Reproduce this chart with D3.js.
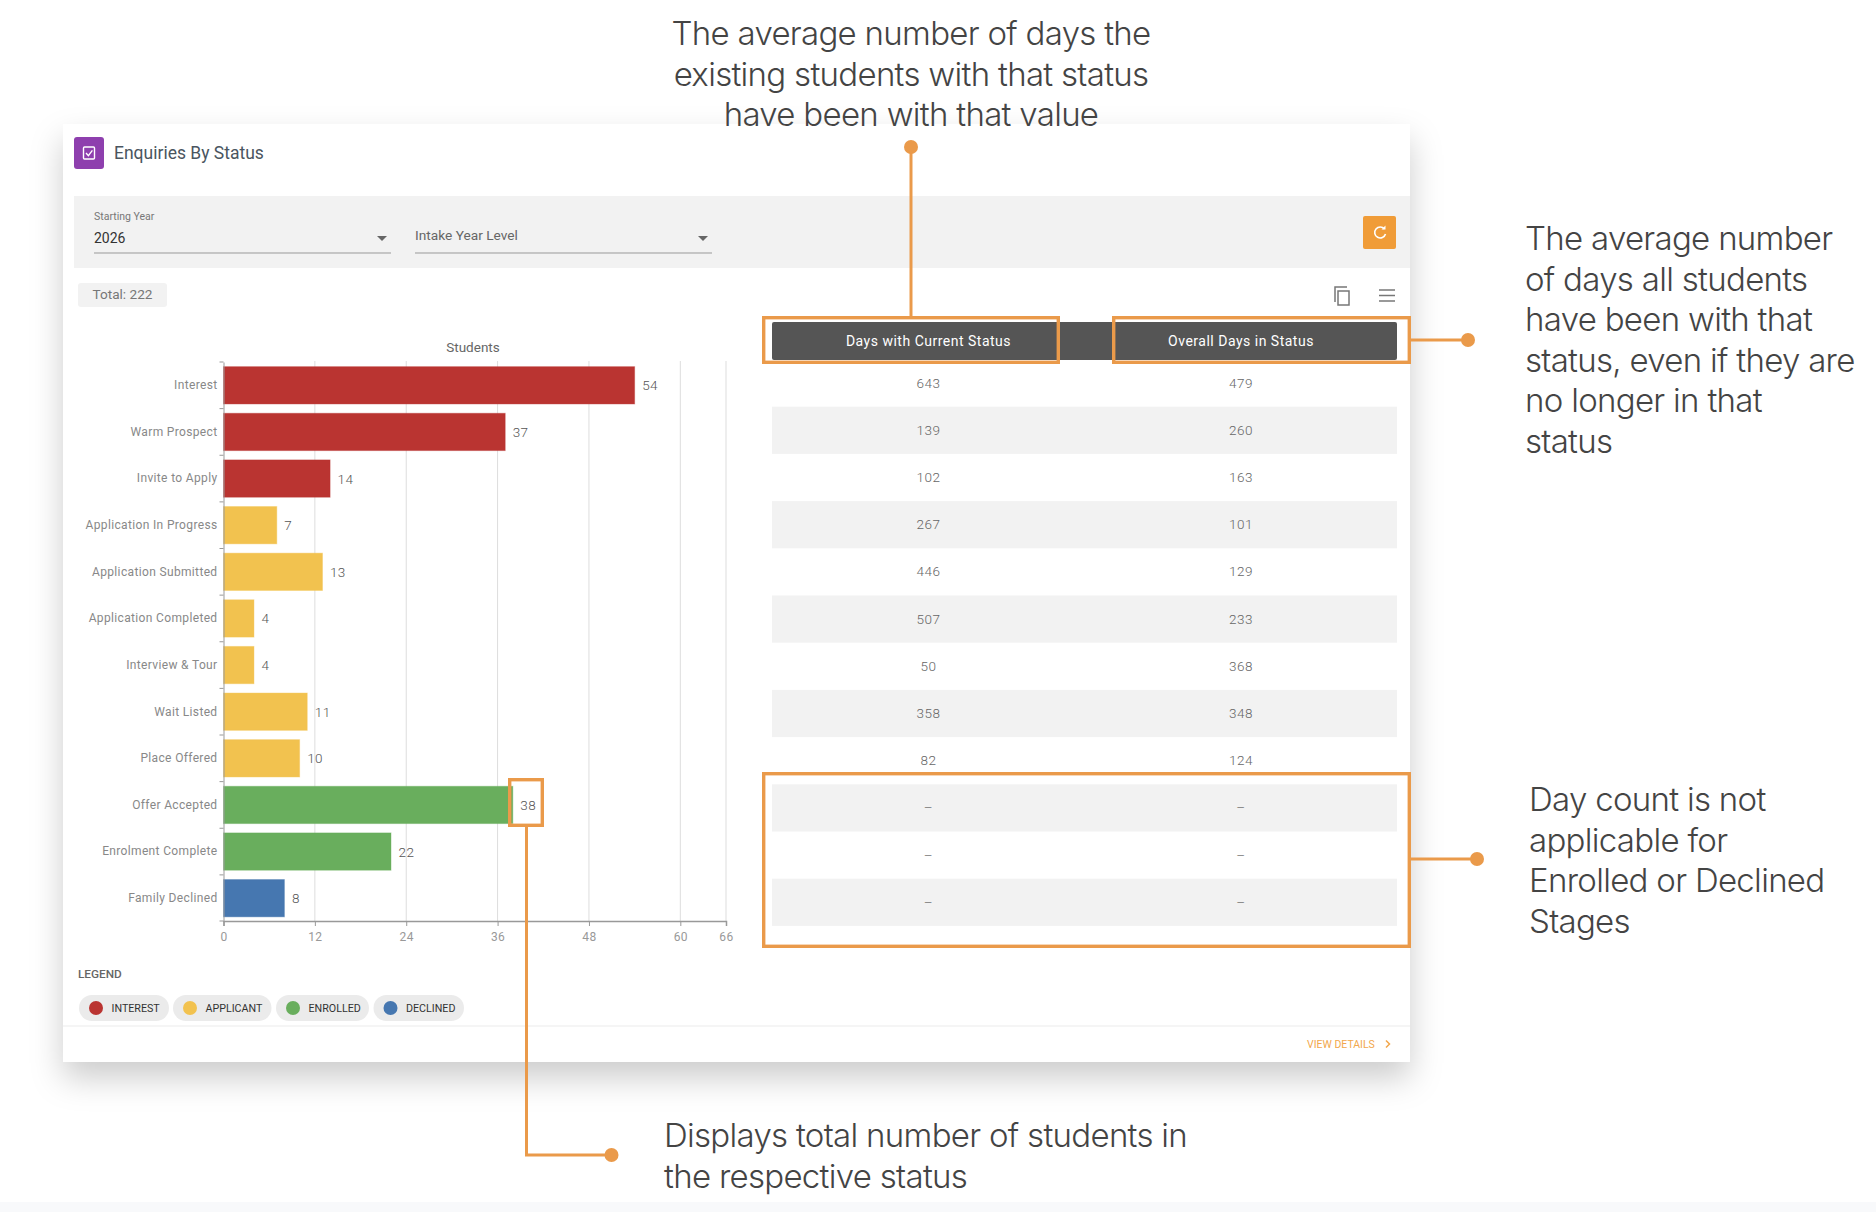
<!DOCTYPE html>
<html>
<head>
<meta charset="utf-8">
<title>Enquiries By Status</title>
<script src="https://cdn.jsdelivr.net/npm/d3@7/dist/d3.min.js"></script>
<style>
  html, body { margin: 0; padding: 0; background: #fff; }
  svg { display: block; }
  text { font-family: Roboto, sans-serif; }
  .note { font-family: Inter, sans-serif; font-weight: 300; font-size: 33px; letter-spacing: -0.7px; fill: #444; }
</style>
</head>
<body>
<div id="chart"></div>
<script>
// chart data
var stages = ["Interest", "Warm Prospect", "Invite to Apply", "Application In Progress", "Application Submitted",
  "Application Completed", "Interview & Tour", "Wait Listed", "Place Offered", "Offer Accepted", "Enrolment Complete", "Family Declined"];
var students = [54, 37, 14, 7, 13, 4, 4, 11, 10, 38, 22, 8];
var groups = ["INTEREST", "INTEREST", "INTEREST", "APPLICANT", "APPLICANT", "APPLICANT", "APPLICANT", "APPLICANT", "APPLICANT", "ENROLLED", "ENROLLED", "DECLINED"];
var daysCurrent = [643, 139, 102, 267, 446, 507, 50, 358, 82, null, null, null];
var daysOverall = [479, 260, 163, 101, 129, 233, 368, 348, 124, null, null, null];
var xTicks = [0, 12, 24, 36, 48, 60, 66];

var legendNames = ["INTEREST", "APPLICANT", "ENROLLED", "DECLINED"];
var legendColors = ["#BA3431", "#F2C24F", "#69AE5D", "#4677B0"];

var noteTop = ["The average number of days the", "existing students with that status", "have been with that value"];
var noteRight = ["The average number", "of days all students", "have been with that", "status, even if they are", "no longer in that", "status"];
var noteNA = ["Day count is not", "applicable for", "Enrolled or Declined", "Stages"];
var noteBottom = ["Displays total number of students in", "the respective status"];

var orange = "#EA9A4A";
var width = 1876, height = 1212;

var svg = d3.select("#chart").append("svg").attr("width", width).attr("height", height);

var defs = svg.append("defs");
var shadow = defs.append("filter").attr("id", "cardShadow")
  .attr("x", "-10%").attr("y", "-10%").attr("width", "120%").attr("height", "125%");
shadow.append("feDropShadow").attr("dx", 0).attr("dy", 16).attr("stdDeviation", 16)
  .attr("flood-color", "#000").attr("flood-opacity", 0.2);

// strip along the bottom of the page
svg.append("rect").attr("x", 0).attr("y", 1202).attr("width", width).attr("height", 10).attr("fill", "#f8f9fb");

// card
svg.append("rect").attr("x", 63).attr("y", 124).attr("width", 1347).attr("height", 938)
  .attr("fill", "#fff").attr("filter", "url(#cardShadow)");

// header
svg.append("rect").attr("x", 74).attr("y", 137).attr("width", 30).attr("height", 32).attr("rx", 3).attr("fill", "#8E3FAE");
svg.append("rect").attr("x", 83.5).attr("y", 147).attr("width", 11).attr("height", 12).attr("rx", 1)
  .attr("fill", "none").attr("stroke", "#fff").attr("stroke-width", 1.4);
svg.append("path").attr("d", "M86 153 l2.4 2.6 l4 -5.2").attr("fill", "none").attr("stroke", "#fff").attr("stroke-width", 1.4);
svg.append("text").attr("x", 114).attr("y", 159).attr("font-size", 17.5).attr("fill", "#4a5560").text("Enquiries By Status");

// filter panel
svg.append("rect").attr("x", 74).attr("y", 196).attr("width", 1336).attr("height", 72).attr("fill", "#f2f2f2");
svg.append("text").attr("x", 94).attr("y", 220).attr("font-size", 10.5).attr("fill", "#777").text("Starting Year");
svg.append("text").attr("x", 94).attr("y", 243).attr("font-size", 14).attr("fill", "#333").text("2026");
svg.append("text").attr("x", 415).attr("y", 240).attr("font-size", 13.7).attr("fill", "#666").text("Intake Year Level");
[[94, 391, 382], [415, 712, 703]].forEach(function (f) {
  svg.append("line").attr("x1", f[0]).attr("x2", f[1]).attr("y1", 253).attr("y2", 253).attr("stroke", "#999").attr("stroke-width", 1);
  svg.append("path").attr("d", "M" + (f[2] - 5) + " 236 h10 l-5 5 z").attr("fill", "#666");
});

// refresh button
svg.append("rect").attr("x", 1363).attr("y", 216).attr("width", 33).attr("height", 33).attr("rx", 2).attr("fill", "#F09C38");
svg.append("path").attr("d", "M1384.5 229 A5.5 5.5 0 1 0 1385.5 234").attr("fill", "none").attr("stroke", "#fff").attr("stroke-width", 1.6);
svg.append("path").attr("d", "M1381.5 229.5 h4 v-4 z").attr("fill", "#fff");

// total pill and the small icons
svg.append("rect").attr("x", 78).attr("y", 283).attr("width", 89).attr("height", 24).attr("rx", 3).attr("fill", "#f2f2f2");
svg.append("text").attr("x", 92.5).attr("y", 299).attr("font-size", 13.6).attr("fill", "#777").text("Total: 222");
svg.append("path").attr("d", "M1347 287 h-12 v15").attr("fill", "none").attr("stroke", "#777").attr("stroke-width", 1.5);
svg.append("rect").attr("x", 1338).attr("y", 291).attr("width", 11).attr("height", 14).attr("fill", "none").attr("stroke", "#777").attr("stroke-width", 1.5);
[290, 295.5, 301].forEach(function (y) {
  svg.append("line").attr("x1", 1379).attr("x2", 1395).attr("y1", y).attr("y2", y).attr("stroke", "#777").attr("stroke-width", 1.5);
});

// scales
var x = d3.scaleLinear().domain([0, 66]).range([223.5, 726]);
var y = d3.scaleBand().domain(stages).range([362, 921.5]).paddingInner(0.2).paddingOuter(0.1);
var rowY = d3.scaleBand().domain(stages).range([359.5, 359.5 + 47.2 * 12]);
var color = d3.scaleOrdinal().domain(legendNames).range(legendColors);

svg.append("text").attr("x", 473).attr("y", 351.5).attr("text-anchor", "middle")
  .attr("font-size", 13.5).attr("fill", "#666").text("Students");

// gridlines
svg.append("g").selectAll("line").data(xTicks.slice(1)).join("line")
  .attr("x1", d => x(d)).attr("x2", d => x(d)).attr("y1", 361).attr("y2", 921)
  .attr("stroke", "#ddd").attr("stroke-width", 1);

// bars
svg.append("g").selectAll("rect").data(stages).join("rect")
  .attr("x", x(0))
  .attr("y", d => y(d))
  .attr("width", (d, i) => x(students[i]) - x(0))
  .attr("height", y.bandwidth())
  .attr("fill", (d, i) => color(groups[i]))
  .attr("stroke", (d, i) => color(groups[i]))
  .attr("stroke-opacity", 0.4);

svg.append("g").selectAll("text").data(stages).join("text")
  .attr("x", (d, i) => x(students[i]) + 7.5)
  .attr("y", d => y(d) + y.bandwidth() / 2 + 5)
  .attr("font-size", 13.5).attr("fill", "#555").attr("font-weight", 300).attr("letter-spacing", 0.4)
  .text((d, i) => students[i]);

// axes
var yAxis = svg.append("g").attr("transform", "translate(" + x(0) + ",0)")
  .call(d3.axisLeft(y).tickSize(0).tickPadding(6));
yAxis.select(".domain").attr("stroke", "#999");
yAxis.selectAll("text").attr("font-size", 12).attr("fill", "#888").attr("letter-spacing", 0.35)
  .attr("font-family", "Roboto, sans-serif");

var bandEdges = stages.map(d => y(d) - y.step() * 0.1);
svg.append("g").selectAll("line").data(bandEdges.concat(921)).join("line")
  .attr("x1", x(0) - 4).attr("x2", x(0))
  .attr("y1", d => d).attr("y2", d => d)
  .attr("stroke", "#999");

var xAxis = svg.append("g").attr("transform", "translate(0,921)")
  .call(d3.axisBottom(x).tickValues(xTicks).tickFormat(d3.format("d")).tickSize(5).tickPadding(6));
xAxis.select(".domain").attr("stroke", "#999").attr("stroke-width", 1.5);
xAxis.selectAll(".tick line").attr("stroke", "#999");
xAxis.selectAll("text").attr("font-size", 12).attr("fill", "#999").attr("letter-spacing", 0.4)
  .attr("font-family", "Roboto, sans-serif");

// table
var colCurrent = 928.5, colOverall = 1241;
svg.append("rect").attr("x", 772).attr("y", 322).attr("width", 625).attr("height", 38).attr("rx", 2).attr("fill", "#555");
svg.append("text").attr("x", colCurrent).attr("y", 345.5).attr("text-anchor", "middle").attr("font-size", 14)
  .attr("letter-spacing", 0.5).attr("fill", "#fff").text("Days with Current Status");
svg.append("text").attr("x", colOverall).attr("y", 345.5).attr("text-anchor", "middle").attr("font-size", 14)
  .attr("letter-spacing", 0.5).attr("fill", "#fff").text("Overall Days in Status");

svg.append("g").selectAll("rect").data(stages.filter((d, i) => i % 2 == 1)).join("rect")
  .attr("x", 772).attr("width", 625)
  .attr("y", d => rowY(d)).attr("height", rowY.bandwidth())
  .attr("fill", "#f2f2f2");

[[daysCurrent, colCurrent], [daysOverall, colOverall]].forEach(function (c) {
  svg.append("g").selectAll("text").data(stages).join("text")
    .attr("x", c[1]).attr("y", d => rowY(d) + rowY.bandwidth() / 2 + 4.5)
    .attr("text-anchor", "middle").attr("font-size", 13.5).attr("font-weight", 300).attr("letter-spacing", 0.5).attr("fill", "#666")
    .text((d, i) => c[0][i] === null ? "–" : c[0][i]);
});

// legend
svg.append("text").attr("x", 78).attr("y", 978).attr("font-size", 11.8).attr("font-weight", 500).attr("fill", "#666").text("LEGEND");
var pillLeft = [79, 173, 276, 373.5];
var pillWidth = [90, 98.5, 93, 90.5];
var legend = svg.append("g").selectAll("g").data(legendNames).join("g")
  .attr("transform", (d, i) => "translate(" + pillLeft[i] + ",995)");
legend.append("rect").attr("width", (d, i) => pillWidth[i]).attr("height", 26).attr("rx", 13).attr("fill", "#ebebeb");
legend.append("circle").attr("cx", 17).attr("cy", 13).attr("r", 7).attr("fill", d => color(d));
legend.append("text").attr("x", 32.5).attr("y", 17).attr("font-size", 10.7).attr("fill", "#333").text(d => d);

// footer
svg.append("line").attr("x1", 63).attr("x2", 1410).attr("y1", 1026).attr("y2", 1026).attr("stroke", "#f2f2f2").attr("stroke-width", 1.5);
svg.append("text").attr("x", 1307).attr("y", 1048).attr("font-size", 10.5).attr("fill", "#F2A74B").text("VIEW DETAILS");
svg.append("path").attr("d", "M1386 1040.5 l3.5 3.5 l-3.5 3.5").attr("fill", "none").attr("stroke", "#F2A74B").attr("stroke-width", 1.5);

// orange callouts
var boxes = [[762, 316, 298, 48], [1112, 316, 299, 48], [762, 772, 649, 176], [508, 778, 36, 49]];
svg.append("g").selectAll("rect").data(boxes).join("rect")
  .attr("x", d => d[0] + 1.7).attr("y", d => d[1] + 1.7)
  .attr("width", d => d[2] - 3.4).attr("height", d => d[3] - 3.4)
  .attr("fill", "none").attr("stroke", orange).attr("stroke-width", 3.4);

var leaders = [
  [[911, 147], [911, 316]],
  [[1411, 340], [1468, 340]],
  [[1411, 859], [1477, 859]],
  [[526.5, 826], [526.5, 1155], [611.5, 1155]]
];
var lineGen = d3.line();
svg.append("g").selectAll("path").data(leaders).join("path")
  .attr("d", d => lineGen(d)).attr("fill", "none").attr("stroke", orange).attr("stroke-width", 3);
svg.append("g").selectAll("circle").data(leaders).join("circle")
  .attr("cx", d => d[d[0][0] == 911 ? 0 : d.length - 1][0])
  .attr("cy", d => d[d[0][0] == 911 ? 0 : d.length - 1][1])
  .attr("r", 7).attr("fill", orange);

// note text
function note(lines, xPos, firstBase, step, anchor) {
  svg.append("g").selectAll("text").data(lines).join("text")
    .attr("class", "note").attr("x", xPos)
    .attr("y", (d, i) => firstBase + i * step)
    .attr("text-anchor", anchor).text(d => d);
}
note(noteTop, 911, 45, 40.6, "middle");
note(noteRight, 1525, 250, 40.6, "start");
note(noteNA, 1529, 811, 40.6, "start");
note(noteBottom, 664, 1147, 40.6, "start");
</script>
</body>
</html>
